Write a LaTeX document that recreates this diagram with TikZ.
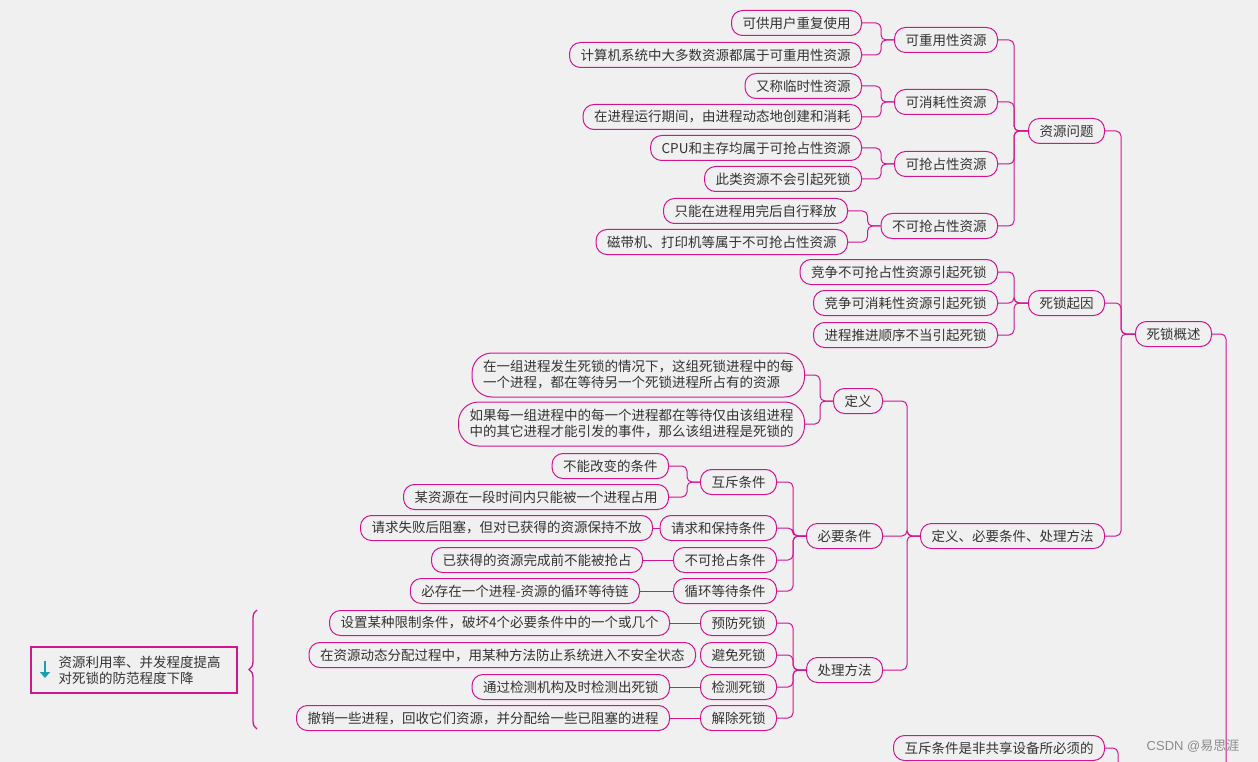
\documentclass[tikz,border=0pt]{standalone}
\usepackage{fontspec}
\newfontfamily\cjk{Noto Sans CJK SC}
\usetikzlibrary{arrows.meta,decorations.pathreplacing}
\definecolor{mag}{HTML}{D0158F}
\definecolor{bg}{HTML}{F1F0F1}
\definecolor{txt}{HTML}{333333}
\definecolor{teal}{HTML}{1A9EB0}
\tikzset{
 pill/.style={draw=mag,line width=1pt,rounded corners=11pt,inner xsep=11pt,minimum height=25pt,font=\cjk\fontsize{13.5}{16}\selectfont,text=txt,anchor=east},
 pill2/.style={pill,align=left,minimum height=44pt,rounded corners=20pt},
 conn/.style={draw=mag,line width=1pt,rounded corners=5pt},
}
\begin{document}
\begin{tikzpicture}[x=1pt,y=-1pt]
\fill[bg] (0,0) rectangle (1258,762);
\useasboundingbox (0,0) rectangle (1258,762);
% level 0/1
\node[pill] (root) at (1212,334) {死锁概述};
\node[pill] (zy) at (1105,131) {资源问题};
\node[pill] (qy) at (1105,303) {死锁起因};
\node[pill] (dy) at (1105,536) {定义、必要条件、处理方法};
\node[pill] (hc2) at (1105,748) {互斥条件是非共享设备所必须的};
\coordinate (offA) at (1226,762);
\coordinate (offB) at (1118,762);
\foreach \c in {zy,qy,dy} \draw[conn] (root.west) -- ++(-14,0) |- (\c.east);
\draw[conn] (root.east) -| (offA);
\draw[conn] (hc2.east) -| (offB);
% 资源问题
\node[pill] (a1) at (998,40) {可重用性资源};
\node[pill] (a2) at (998,102) {可消耗性资源};
\node[pill] (a3) at (998,164) {可抢占性资源};
\node[pill] (a4) at (998,226) {不可抢占性资源};
\foreach \c in {a1,a2,a3,a4} \draw[conn] (zy.west) -- ++(-14,0) |- (\c.east);
\node[pill] (l1) at (862,23) {可供用户重复使用};
\node[pill] (l2) at (862,55) {计算机系统中大多数资源都属于可重用性资源};
\node[pill] (l3) at (862,86) {又称临时性资源};
\node[pill] (l4) at (862,117) {在进程运行期间，由进程动态地创建和消耗};
\node[pill] (l5) at (862,148) {CPU和主存均属于可抢占性资源};
\node[pill] (l6) at (862,179) {此类资源不会引起死锁};
\node[pill] (l7) at (848,211) {只能在进程用完后自行释放};
\node[pill] (l8) at (848,242) {磁带机、打印机等属于不可抢占性资源};
\foreach \p/\c in {a1/l1,a1/l2,a2/l3,a2/l4,a3/l5,a3/l6,a4/l7,a4/l8} \draw[conn] (\p.west) -- ++(-13,0) |- (\c.east);
% 死锁起因
\node[pill] (b1) at (998,272) {竞争不可抢占性资源引起死锁};
\node[pill] (b2) at (998,303) {竞争可消耗性资源引起死锁};
\node[pill] (b3) at (998,335) {进程推进顺序不当引起死锁};
\foreach \c in {b1,b2,b3} \draw[conn] (qy.west) -- ++(-14,0) |- (\c.east);
% 定义...
\node[pill] (c1) at (883,401) {定义};
\node[pill] (c2) at (883,536) {必要条件};
\node[pill] (c3) at (883,670) {处理方法};
\foreach \c in {c1,c2,c3} \draw[conn] (dy.west) -- ++(-13,0) |- (\c.east);
\node[pill2] (d1) at (805,375) {在一组进程发生死锁的情况下，这组死锁进程中的每\\一个进程，都在等待另一个死锁进程所占有的资源};
\node[pill2] (d2) at (805,424) {如果每一组进程中的每一个进程都在等待仅由该组进程\\中的其它进程才能引发的事件，那么该组进程是死锁的};
\foreach \c in {d1,d2} \draw[conn] (c1.west) -- ++(-13,0) |- (\c.east);
\node[pill] (e1) at (777,482) {互斥条件};
\node[pill] (e2) at (777,528) {请求和保持条件};
\node[pill] (e3) at (777,560) {不可抢占条件};
\node[pill] (e4) at (777,591) {循环等待条件};
\foreach \c in {e1,e2,e3,e4} \draw[conn] (c2.west) -- ++(-13,0) |- (\c.east);
\node[pill] (f1) at (669,466) {不能改变的条件};
\node[pill] (f2) at (669,497) {某资源在一段时间内只能被一个进程占用};
\foreach \c in {f1,f2} \draw[conn] (e1.west) -- ++(-13,0) |- (\c.east);
\node[pill] (f3) at (653,528) {请求失败后阻塞，但对已获得的资源保持不放};
\node[pill] (f4) at (643,560) {已获得的资源完成前不能被抢占};
\node[pill] (f5) at (640,591) {必存在一个进程-资源的循环等待链};
\draw[conn] (e2.west) -- (f3.east);
\draw[conn] (e3.west) -- (f4.east);
\draw[conn] (e4.west) -- (f5.east);
\node[pill] (g1) at (777,623) {预防死锁};
\node[pill] (g2) at (777,655) {避免死锁};
\node[pill] (g3) at (777,687) {检测死锁};
\node[pill] (g4) at (777,718) {解除死锁};
\foreach \c in {g1,g2,g3,g4} \draw[conn] (c3.west) -- ++(-13,0) |- (\c.east);
\node[pill] (h1) at (670,623) {设置某种限制条件，破坏4个必要条件中的一个或几个};
\node[pill] (h2) at (696,655) {在资源动态分配过程中，用某种方法防止系统进入不安全状态};
\node[pill] (h3) at (670,687) {通过检测机构及时检测出死锁};
\node[pill] (h4) at (670,718) {撤销一些进程，回收它们资源，并分配给一些已阻塞的进程};
\draw[conn] (g1.west) -- (h1.east);
\draw[conn] (g3.west) -- (h3.east);
\draw[conn] (g4.west) -- (h4.east);
% brace and summary
\draw[mag,line width=1.3pt,decorate,decoration={brace,amplitude=8pt}] (257,729) -- (257,610);
\node[draw=mag,line width=1.5pt,minimum width=206pt,minimum height=46pt,anchor=west,inner sep=0pt] (sum) at (30,670) {};
\node[anchor=west,align=left,font=\cjk\fontsize{13.5}{16}\selectfont,text=txt] (sumt) at (55,670) {资源利用率、并发程度提高\\对死锁的防范程度下降};
\draw[teal,line width=2.5pt,-{Triangle[length=6pt,width=10pt]}] (45,661) -- (45,678);
\node[font=\fontspec{Liberation Sans}\fontsize{13}{15}\selectfont,text=black!45] (wm) at (1193,746) {CSDN @\cjk 易思涯};
\end{tikzpicture}
\end{document}
